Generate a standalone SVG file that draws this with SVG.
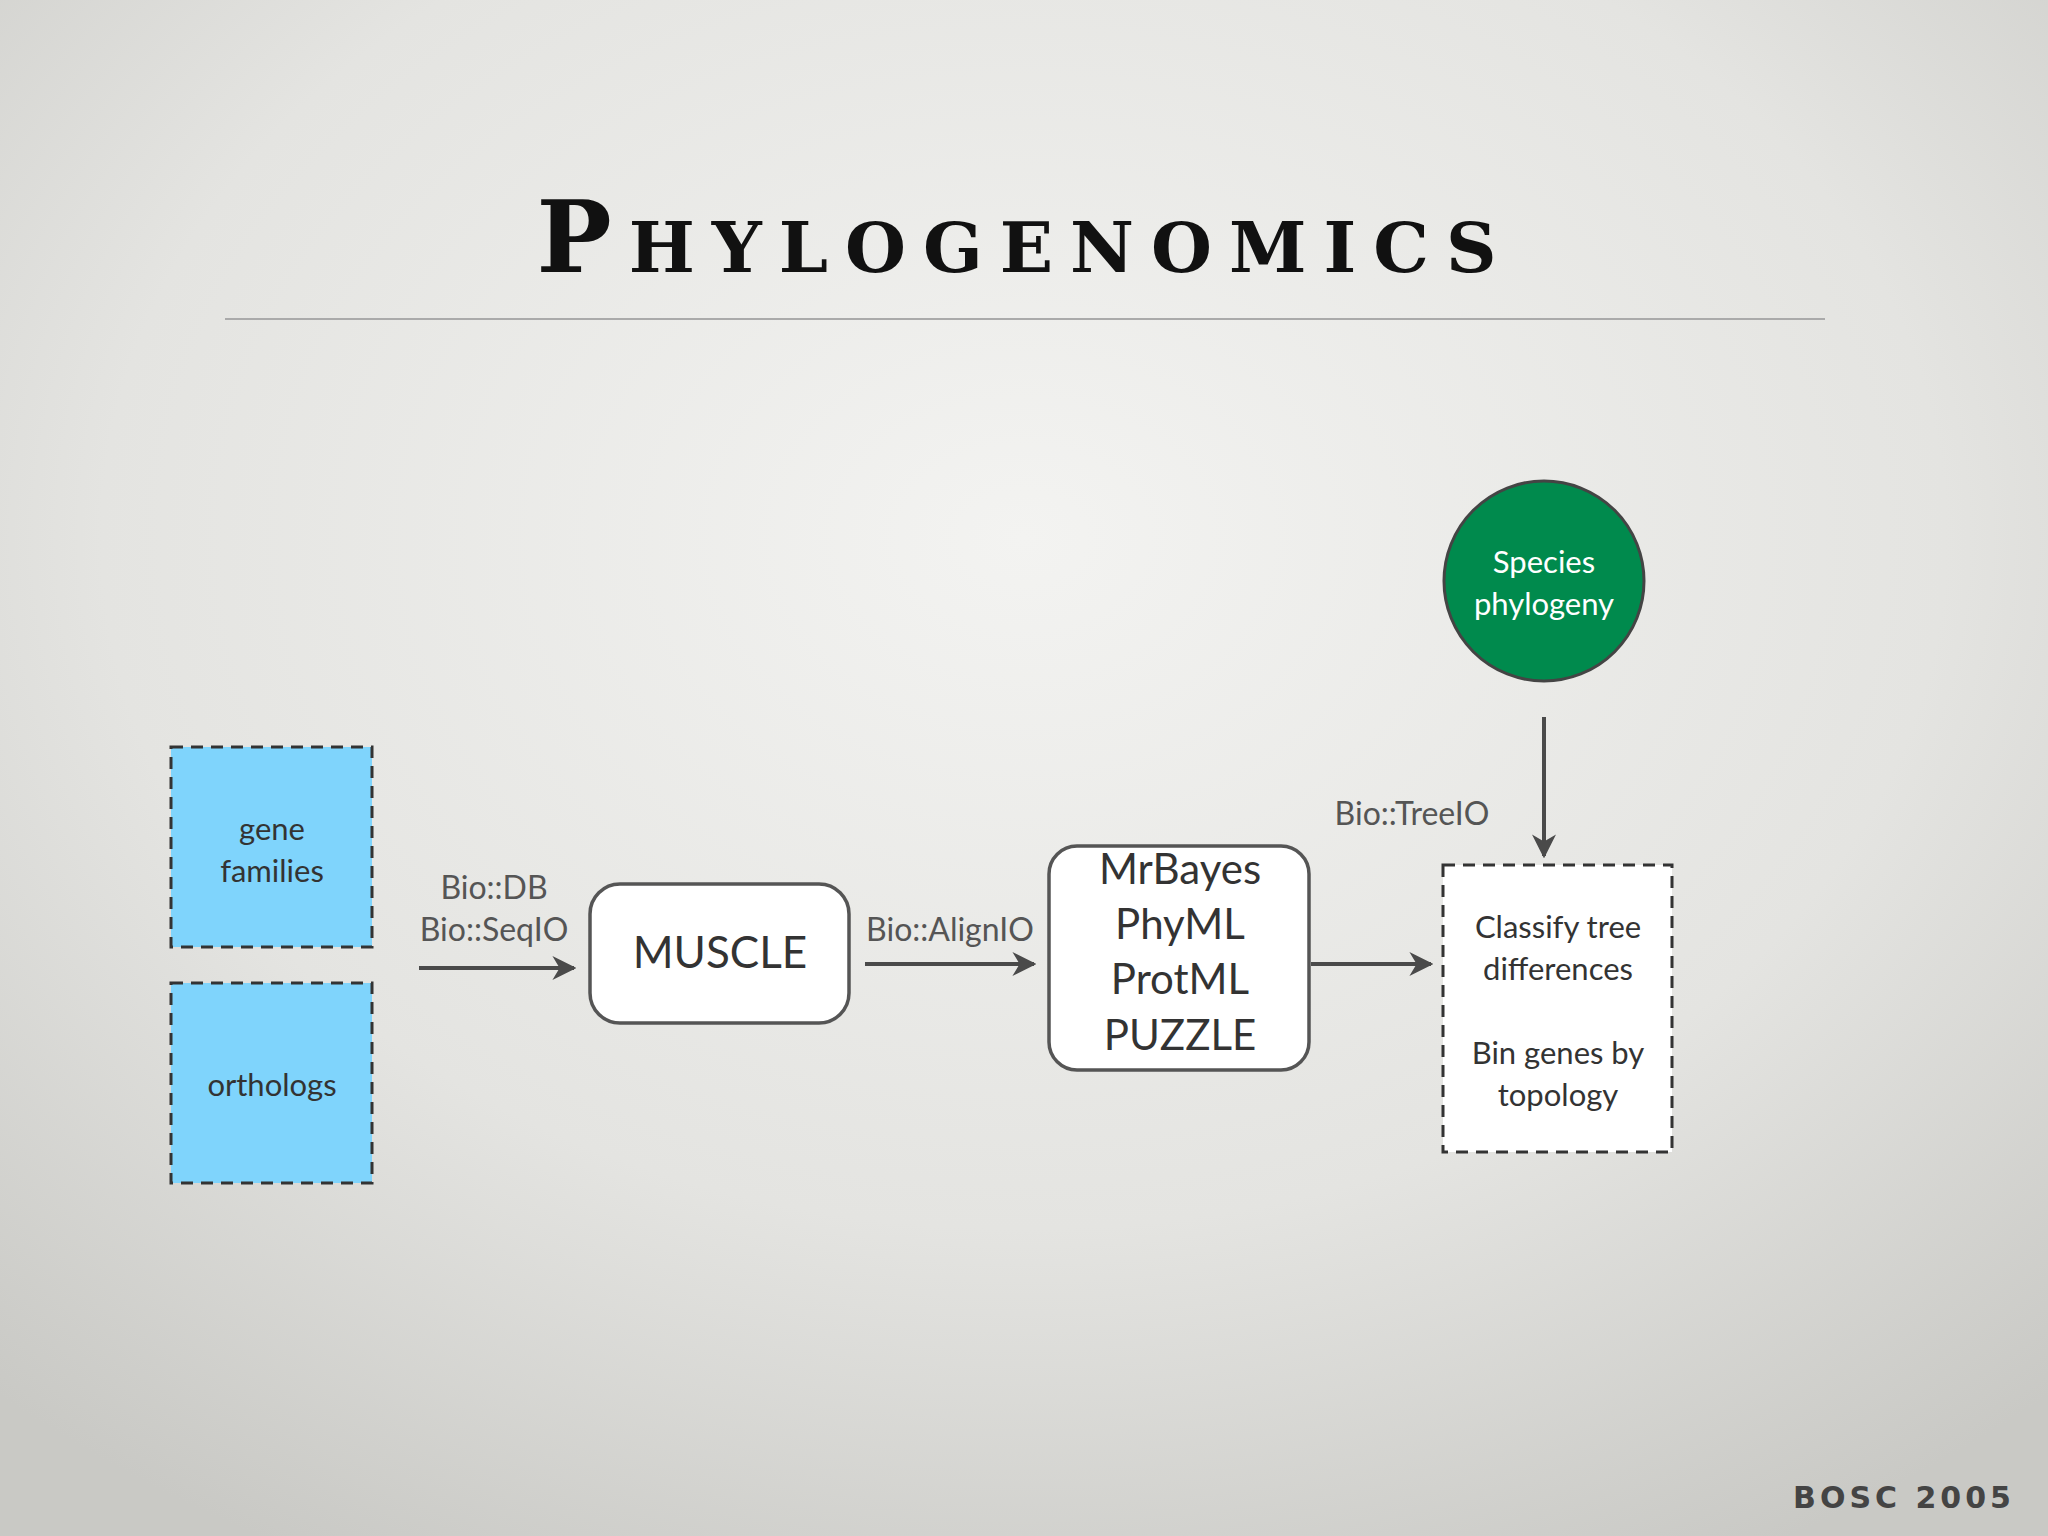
<svg xmlns="http://www.w3.org/2000/svg" width="2048" height="1536" viewBox="0 0 2048 1536">
<defs>
<radialGradient id="bg" cx="50%" cy="35%" r="75%">
<stop offset="0" stop-color="#f3f3f1"/>
<stop offset="0.6" stop-color="#e4e4e1"/>
<stop offset="1" stop-color="#c9c9c5"/>
</radialGradient>
<marker id="ah" viewBox="0 0 10 10" refX="9" refY="5" markerWidth="6" markerHeight="6" orient="auto" markerUnits="strokeWidth">
<path d="M0,0 L10,5 L0,10 L3,5 z" fill="#4a4a4a"/>
</marker>
<style>
.t{font-family:Lato,"Open Sans",sans-serif;text-anchor:middle;fill:#333}
.lbl{font-family:Lato,"Open Sans",sans-serif;text-anchor:middle;fill:#555;font-size:32px}
.conn{stroke:#4a4a4a;stroke-width:4;fill:none;marker-end:url(#ah)}
.dash{stroke:#333;stroke-width:3;stroke-dasharray:12 8}
.solid{fill:#fff;stroke:#555;stroke-width:3.5}
</style>
</defs>
<rect width="2048" height="1536" fill="url(#bg)"/>
<text x="1025" y="272" font-family="'DejaVu Serif','Liberation Serif',serif" font-size="100" font-weight="bold" font-variant="small-caps" letter-spacing="17" text-anchor="middle" fill="#111">Phylogenomics</text>
<line x1="225" y1="319" x2="1825" y2="319" stroke="#aaa" stroke-width="2"/>
<g id="connectors">
<line class="conn" x1="419" y1="968" x2="574" y2="968"/>
<line class="conn" x1="865" y1="964" x2="1034" y2="964"/>
<line class="conn" x1="1311" y1="964" x2="1431" y2="964"/>
<line class="conn" x1="1544" y1="717" x2="1544" y2="856"/>
<text class="lbl" x="494" y="899">Bio::DB</text>
<text class="lbl" x="494" y="941">Bio::SeqIO</text>
<text class="lbl" x="950" y="941">Bio::AlignIO</text>
<text class="lbl" x="1412" y="825">Bio::TreeIO</text>
</g>
<g id="gene-families"><rect x="171" y="747" width="201" height="200" fill="#7fd4fc" class="dash"/>
<text class="t" x="272" y="840" font-size="31">gene</text><text class="t" x="272" y="882" font-size="31">families</text></g>
<g id="orthologs"><rect x="171" y="983" width="201" height="200" fill="#7fd4fc" class="dash"/>
<text class="t" x="272" y="1096" font-size="31">orthologs</text></g>
<g id="muscle"><rect x="590" y="884" width="259" height="139" rx="30" class="solid"/>
<text class="t" x="720" y="968" font-size="44" fill="#444">MUSCLE</text></g>
<g id="tree-tools"><rect x="1049" y="846" width="260" height="224" rx="28" class="solid"/>
<g class="t" font-size="42"><text x="1180" y="884">MrBayes</text><text x="1180" y="939">PhyML</text><text x="1180" y="994">ProtML</text><text x="1180" y="1050">PUZZLE</text></g></g>
<g id="classify"><rect x="1443" y="865" width="229" height="287" fill="#fff" class="dash"/>
<g class="t" font-size="31" fill="#222"><text x="1558" y="938">Classify tree</text><text x="1558" y="980">differences</text><text x="1558" y="1064">Bin genes by</text><text x="1558" y="1106">topology</text></g></g>
<g id="species"><circle cx="1544" cy="581" r="100" fill="#008a4d" stroke="#444" stroke-width="3"/>
<text class="t" x="1544" y="573" font-size="31" style="fill:#fff">Species</text><text class="t" x="1544" y="615" font-size="31" style="fill:#fff">phylogeny</text></g>
<text x="2015" y="1508" font-family="'DejaVu Sans',sans-serif" font-weight="bold" font-size="30" letter-spacing="4" text-anchor="end" fill="#444">BOSC 2005</text>
</svg>
